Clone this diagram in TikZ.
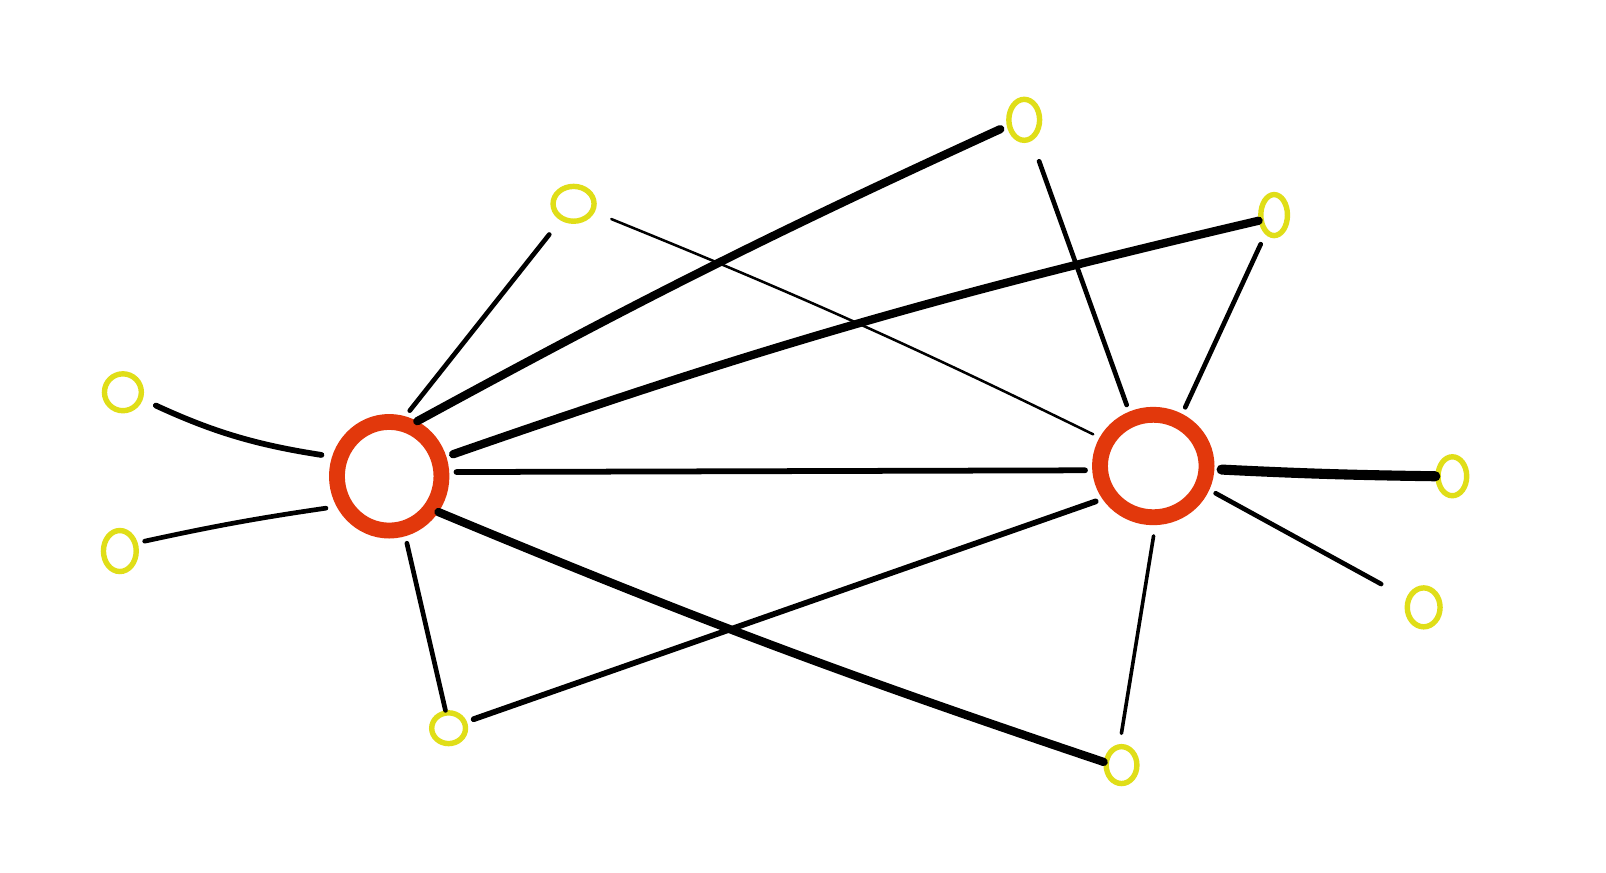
\documentclass[tikz,border=0pt]{standalone}
\usetikzlibrary{shapes.geometric}
\definecolor{hubred}{RGB}{226,56,12}
\definecolor{leafyel}{RGB}{224,222,24}
\begin{document}
\begin{tikzpicture}[x=0.01cm,y=-0.01cm,
  hub/.style={ellipse,draw=hubred,line width=4.4pt,inner sep=0pt,minimum width=1.02cm,minimum height=1.06cm},
  leaf/.style={ellipse,draw=leafyel,line width=1.5pt,inner sep=0pt,minimum width=0.34cm,minimum height=0.38cm},
  edge/.style={line cap=round,draw=black,shorten <=2pt,shorten >=2pt},
  thin/.style={edge,line width=0.7pt},
  mid/.style={edge,line width=1.3pt},
  med/.style={edge,line width=1.6pt},
  heavy/.style={edge,line width=2.3pt}]
\useasboundingbox (0,0) rectangle (1568,852);
\fill[white] (0,0) rectangle (1568,852);
% hubs
\node[hub] (L) at (380,465) {};
\node[hub,minimum width=1.04cm,minimum height=1.0cm] (R) at (1126,455) {};
% leaves
\node[leaf,minimum width=0.36cm,minimum height=0.36cm] (Y1) at (120,383) {};
\node[leaf,minimum width=0.32cm,minimum height=0.40cm] (Y2) at (117,538) {};
\node[leaf,minimum width=0.40cm,minimum height=0.34cm] (Y3) at (560,199) {};
\node[leaf,minimum width=0.30cm,minimum height=0.40cm] (Y4) at (1000,117) {};
\node[leaf,minimum width=0.26cm,minimum height=0.40cm] (Y5) at (1244,210) {};
\node[leaf,minimum width=0.28cm,minimum height=0.38cm] (Y6) at (1418,465) {};
\node[leaf,minimum width=0.32cm,minimum height=0.38cm] (Y7) at (1390,593) {};
\node[leaf,minimum width=0.30cm,minimum height=0.36cm] (Y8) at (1095,747) {};
\node[leaf,minimum width=0.33cm,minimum height=0.30cm] (Y9) at (438,711) {};
% edges of the left hub
\draw[med,shorten <=4pt,shorten >=3pt] (Y1.-20) to[bend right=8] (L.161);
\draw[mid,shorten <=2pt,shorten >=3pt] (Y2.25) to[bend left=2] (L.210);
\draw[mid,shorten <=5pt] (Y3) -- (L.75);
\draw[heavy,shorten <=0pt] (L.63) to[bend left=2] (Y4.200);
\draw[heavy,shorten >=0pt] (L.19) to[bend left=3] (Y5.200);
\draw[med] (L.4) -- (R.184);
\draw[heavy,shorten <=0pt,shorten >=0pt] (L.-36) to[bend right=2] (Y8.170);
\draw[mid,shorten <=0pt] (Y9.100) -- (L.-75);
% edges of the right hub
\draw[med] (Y9.20) -- (R.213);
\draw[thin,shorten <=5pt] (Y3) to[bend left=2] (R.152);
\draw[mid,shorten <=6pt] (Y4) -- (R.114);
\draw[mid,shorten <=3pt] (Y5) -- (R.61);
\draw[heavy,line width=2.8pt,shorten >=0pt] (R.-3) to[bend right=1] (Y6.180);
\draw[mid,shorten >=8pt] (R.-23) -- (Y7);
\draw[thin,line width=1.0pt,shorten <=3pt,shorten >=3pt] (R.-88) -- (Y8.95);
\end{tikzpicture}
\end{document}
